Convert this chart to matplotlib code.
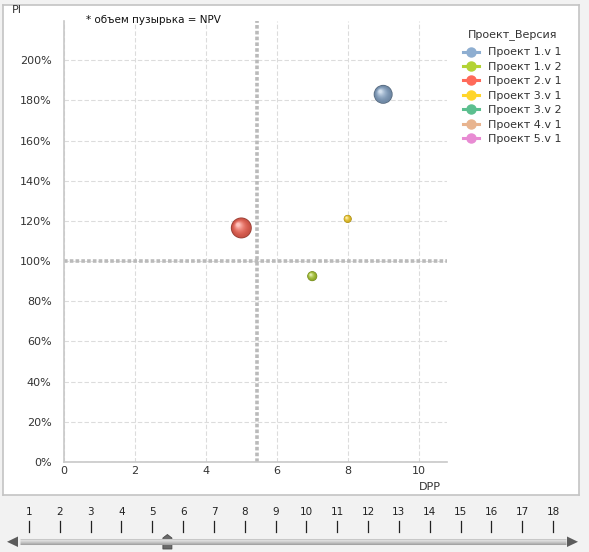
import numpy as np
import matplotlib
matplotlib.use("Agg")
import matplotlib.pyplot as plt
import matplotlib.colors as mcolors
from matplotlib.lines import Line2D
from matplotlib.patches import Polygon
import matplotlib.transforms as mtransforms

plt.rcParams['font.family'] = ['DejaVu Sans']

# ---- data ----
legend_names = ["Проект 1.v 1", "Проект 1.v 2", "Проект 2.v 1", "Проект 3.v 1",
                "Проект 3.v 2", "Проект 4.v 1", "Проект 5.v 1"]
legend_colors = ["#8eaed1", "#b3d335", "#ff6a5a", "#ffd52a", "#5cbf8f", "#e8b48f", "#e88bd3"]

point_names = ["Проект 1.v 1", "Проект 1.v 2", "Проект 2.v 1", "Проект 3.v 1"]
dpp = [9.0, 7.0, 5.0, 8.0]
pi = [1.83, 0.925, 1.165, 1.21]
npv = [850, 125, 1150, 65]

x_ticks = [0, 2, 4, 6, 8, 10]
y_ticks = [0, 0.2, 0.4, 0.6, 0.8, 1.0, 1.2, 1.4, 1.6, 1.8, 2.0]
y_tick_labels = ["0%", "20%", "40%", "60%", "80%", "100%", "120%", "140%", "160%", "180%", "200%"]
ref_dpp = 5.45
ref_pi = 1.0
slider_values = list(range(1, 19))
slider_pos = 5.49

W, H = 589, 552
fig = plt.figure(figsize=(W / 100, H / 100), dpi=100)
fig.patch.set_facecolor("#f2f2f2")

def px(x, y):
    return x / W, 1 - y / H

# panel (background axes)
x0, y0 = px(3, 495)
x1, y1 = px(579, 5)
pax = fig.add_axes([x0, y0, x1 - x0, y1 - y0], zorder=-5)
pax.set_xticks([]); pax.set_yticks([])
pax.set_facecolor("white")
for s in pax.spines.values():
    s.set_color("#c4c4c4"); s.set_linewidth(1.2)

# main axes
l, b = px(64, 462)
r, t = px(447, 21)
ax = fig.add_axes([l, b, r - l, t - b], zorder=1)
ax.set_facecolor("none")
ax.set_xlim(0, 10.8)
ax.set_ylim(0, 2.195)
ax.set_xticks(x_ticks)
ax.set_xticklabels([str(v) for v in x_ticks])
ax.set_yticks(y_ticks)
ax.set_yticklabels(y_tick_labels)
ax.tick_params(length=0, labelsize=8, colors="#333333")
ax.tick_params(axis="y", pad=9)
ax.tick_params(axis="x", pad=3)
for s in ["top", "right"]:
    ax.spines[s].set_visible(False)
for s in ["left", "bottom"]:
    ax.spines[s].set_color("#c8c8c8")
    ax.spines[s].set_linewidth(1.2)
ax.grid(True, color="#dcdcdc", linestyle=(0, (4, 2)), linewidth=0.8)
ax.set_axisbelow(True)

ax.axvline(ref_dpp, color="#bababa", lw=2.6, linestyle=(0, (1, 0.6)), zorder=2)
ax.axhline(ref_pi, color="#bababa", lw=2.6, linestyle=(0, (1, 0.6)), zorder=2)

# shaded bubbles
color_map = dict(zip(legend_names, legend_colors))
for name, x, y, v in zip(point_names, dpp, pi, npv):
    base = np.array(mcolors.to_rgb(color_map[name]))
    rad_px = 1.0 * np.cbrt(v)  # radius in pixels, volume ~ NPV
    rad_pt = rad_px * 0.72
    dark = base * 0.6
    ax.scatter([x], [y], s=(2 * rad_pt) ** 2, color=dark, edgecolors="none", zorder=5)
    n = 14
    for k in range(n):
        tt = k / (n - 1)
        rr = rad_pt * (0.92 - 0.75 * tt)
        off = rad_pt * 0.3 * tt
        c = base * (0.78 + 0.22 * tt) + (1 - base) * (tt ** 2.2) * 0.6
        c = np.clip(c, 0, 1)
        tr = mtransforms.offset_copy(ax.transData, fig=fig, x=-off, y=off, units="points")
        ax.scatter([x], [y], s=(2 * rr) ** 2, color=c, edgecolors="none",
                   transform=tr, zorder=6 + k)

# texts
fig.text(*px(12, 10), "PI", fontsize=8, color="#333333", va="center", ha="left")
fig.text(*px(419, 487), "DPP", fontsize=8, color="#333333", va="center", ha="left")
fig.text(*px(86, 20), "* объем пузырька = NPV", fontsize=7.5, color="#111111", va="center", ha="left")

# legend
handles = [Line2D([0], [0], color=c, lw=2.2, marker="o", markersize=6.5,
                  markerfacecolor=c, markeredgecolor=c) for c in legend_colors]
leg = fig.legend(handles, legend_names, loc="upper left", bbox_to_anchor=px(457, 24),
                 frameon=False, fontsize=8, title="Проект_Версия", title_fontsize=8,
                 handlelength=1.5, handletextpad=0.8, labelspacing=0.40, borderpad=0.0)
leg._legend_box.sep = 5
for txt in leg.get_texts():
    txt.set_color("#333333")
leg.get_title().set_color("#333333")

# slider (data y = 548 - pixel y)
sl, sb = px(29, 548)
sr, st = px(553, 505)
sax = fig.add_axes([sl, sb, sr - sl, st - sb])
sax.set_xlim(1, 18)
sax.set_ylim(0, 43)
sax.axis("off")
for v in slider_values:
    sax.plot([v, v], [16, 27], color="#222222", lw=0.9, clip_on=False)
    sax.text(v, 36, str(v), fontsize=7.5, ha="center", va="center", color="#222222", clip_on=False)
unit = (18 - 1) / (553 - 29)
# track with vertical gradient
track_cols = ["#a4a4a4", "#b4b4b4", "#c4c4c4", "#d2d2d2", "#dedede", "#c8c8c8"]
for i, c in enumerate(track_cols):
    yy = 4.0 + i * 1.0
    sax.plot([1 - 9 * unit, 18 + 13 * unit], [yy, yy], color=c, lw=0.75,
             solid_capstyle="butt", clip_on=False)
# arrows
sax.add_patch(Polygon([[1 - 11 * unit, 1.0], [1 - 11 * unit, 11.5], [1 - 22 * unit, 6.2]],
                      closed=True, facecolor="#5c5c5c", edgecolor="none", clip_on=False))
sax.add_patch(Polygon([[18 + 14 * unit, 1.0], [18 + 14 * unit, 11.5], [18 + 25 * unit, 6.2]],
                      closed=True, facecolor="#5c5c5c", edgecolor="none", clip_on=False))
# thumb (pointed top)
tw = 4.5 * unit
sax.add_patch(Polygon([[slider_pos - tw, -1], [slider_pos + tw, -1], [slider_pos + tw, 10],
                       [slider_pos, 13.5], [slider_pos - tw, 10]],
                      closed=True, facecolor="#6a6a6a", edgecolor="#4a4a4a", lw=0.6,
                      joinstyle="round", clip_on=False))

fig.savefig("out.png", dpi=100, facecolor=fig.get_facecolor())
